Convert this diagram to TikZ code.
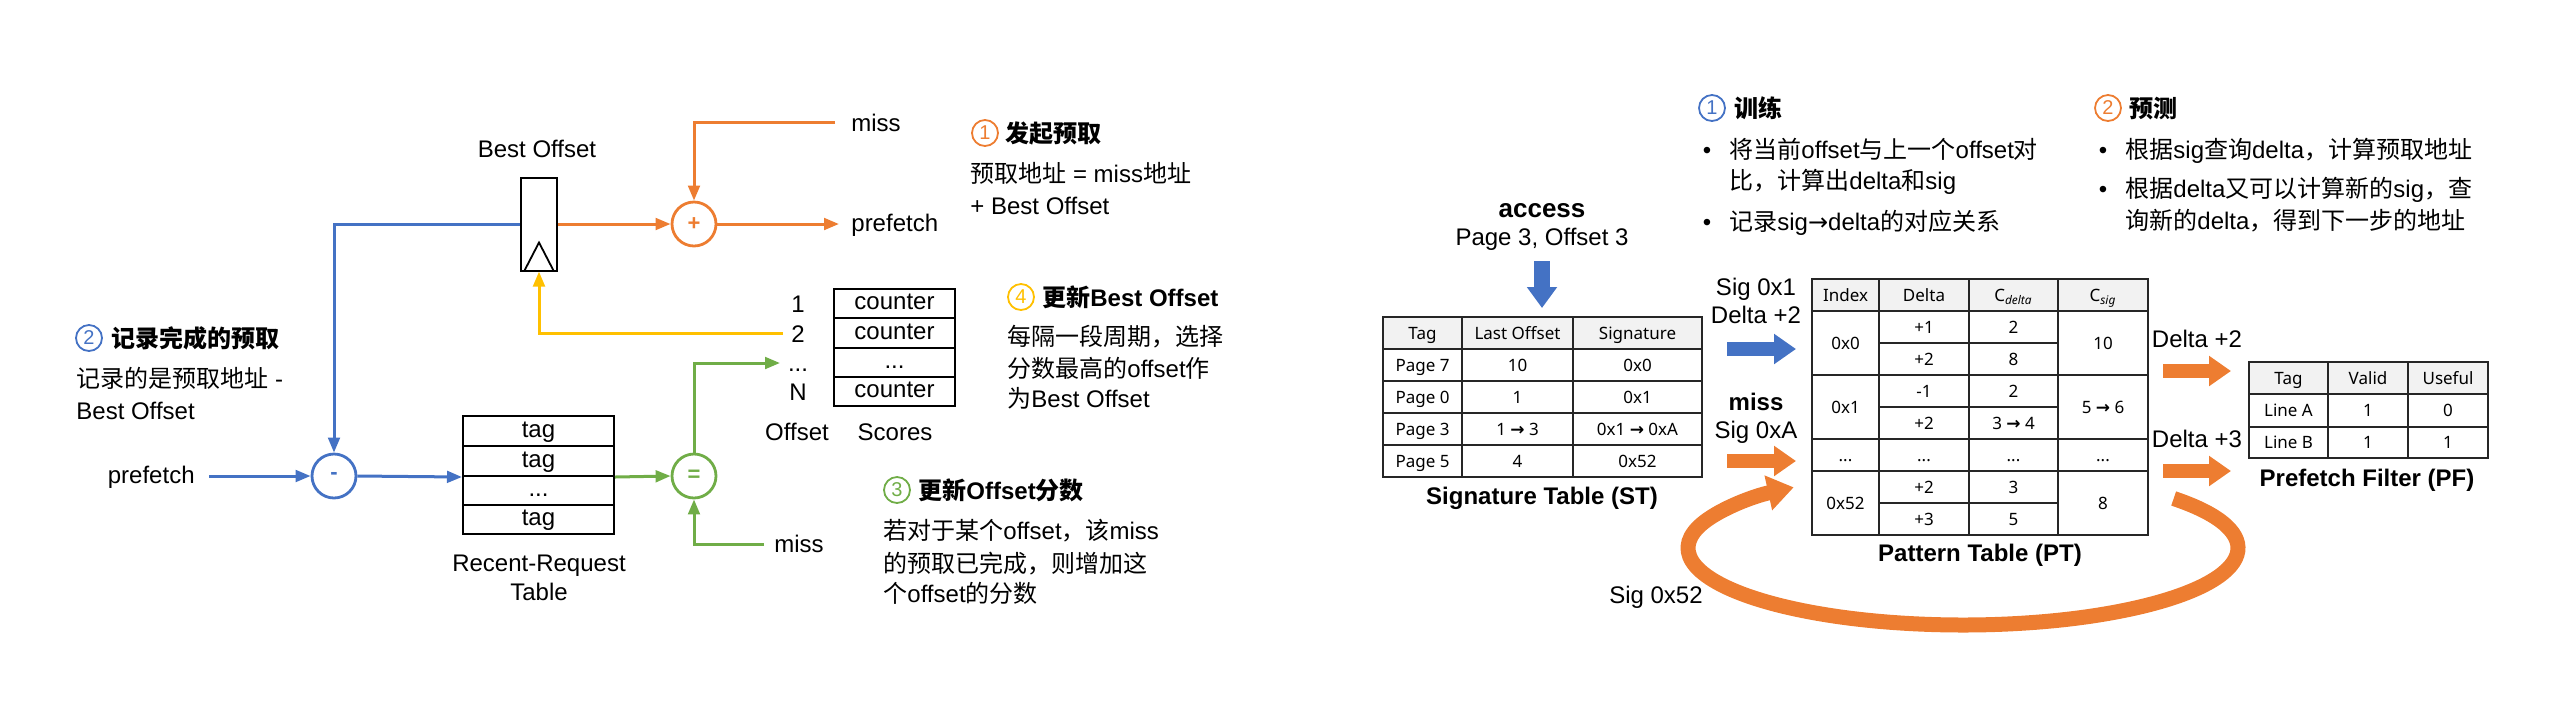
\documentclass[tikz,border=0pt]{standalone}
\usepackage{fontspec}
\setmainfont{Liberation Sans}
\newfontfamily\cjkfont{Noto Sans CJK SC}
\newfontfamily\tabfont{Noto Sans}
\newfontfamily\symfont{DejaVu Sans}
\usetikzlibrary{arrows.meta}
\newcommand\zh[1]{{\cjkfont #1}}
\newcommand\rarr{{\symfont\char"2192}}
\definecolor{cOr}{HTML}{ED7D31}
\definecolor{cBl}{HTML}{4472C4}
\definecolor{cGr}{HTML}{70AD47}
\definecolor{cYe}{HTML}{FFC000}
\definecolor{hdr}{HTML}{F2F2F2}
\definecolor{tl}{HTML}{262626}
\tikzset{
  wire/.style={line width=1.5pt},
  arr/.style={-{Triangle[length=7.5pt,width=5.8pt]}},
  op/.style={circle,draw=#1,text=#1,line width=1.4pt,minimum size=22pt,inner sep=0pt,fill=white,font=\fontsize{11}{12}\selectfont\bfseries},
  cnum/.style={circle,draw=#1,text=#1,line width=0.9pt,minimum size=13pt,inner sep=0pt,font=\fontsize{10}{10}\selectfont},
  t/.style={inner sep=0pt,anchor=base west,font=\fontsize{12}{14}\selectfont},
  tc/.style={t,anchor=base},
  tr/.style={t,anchor=base east},
  tb/.style={t,font=\fontsize{12}{14}\selectfont\bfseries},
  tbc/.style={tb,anchor=base},
  cell/.style={draw=black,line width=1pt,inner sep=0pt,minimum width=#1,minimum height=14.75pt,font=\fontsize{12}{14}\selectfont,text height=8.6pt,text depth=2.5pt},
  tline/.style={draw=tl,line width=1pt},
  tcell/.style={inner sep=0pt,font=\fontsize{8.5}{10}\selectfont\tabfont,text height=6.1pt,text depth=0pt},
  thd/.style={tcell,font=\fontsize{8.5}{10}\selectfont\tabfont\bfseries},
  blkarr/.style={line width=7pt,-{Triangle[length=11pt,width=14.5pt]}},
}
\begin{document}
\begin{tikzpicture}[x=0.5pt,y=0.5pt]
\useasboundingbox (0,0) rectangle (2560,-720);

% ================= LEFT: Best-Offset prefetcher =================
\node[draw,line width=1pt,minimum width=18pt,minimum height=46.5pt,inner sep=0pt] (reg) at (539,-224) {};
\draw[line width=0.9pt] ([xshift=-7.5pt]reg.south) -- ([yshift=14.5pt]reg.south) -- ([xshift=7.5pt]reg.south);
\node[tc] (regl) at (537,-157) {Best Offset};

\node[op=cOr] (plus) at (694,-224) {+};
\node[op=cBl] (minus) at (334,-476) {-};
\node[op=cGr] (eq) at (694,-476) {=};

% recent request table
\node[cell=75.5pt] (rr1) at (538.5,-431) {tag};
\node[cell=75.5pt,minimum height=15pt] (rr2) at (538.5,-461) {tag};
\node[cell=75.5pt] (rr3) at (538.5,-490.5) {...};
\node[cell=75.5pt] (rr4) at (538.5,-519.5) {tag};
\node[tc] (rrl1) at (539,-571) {Recent-Request};
\node[tc] (rrl2) at (539,-600) {Table};

% scores table
\node[cell=60.5pt] (sc1) at (894.5,-303.5) {counter};
\node[cell=60.5pt] (sc2) at (894.5,-333) {counter};
\node[cell=60.5pt] (sc3) at (894.5,-362.5) {...};
\node[cell=60.5pt] (sc4) at (894.5,-391.5) {counter};
\node[tc] (of1) at (798,-312) {1};
\node[tc] (of2) at (798,-342) {2};
\node[tc] (of3) at (798,-371) {...};
\node[tc] (of4) at (798,-400) {N};
\node[tc] (ofl) at (797,-440) {Offset};
\node[tc] (scl) at (895,-440) {Scores};

% labels
\node[t] (missT) at (851,-131) {miss};
\node[t] (pfT) at (851,-231) {prefetch};
\node[tr] (pfL) at (195,-483) {prefetch};
\node[t] (missB) at (774,-552) {miss};

% connectors
\coordinate (mT) at (835,-122);
\coordinate (pT) at (839,-224);
\coordinate (pL) at (209,-476);
\coordinate (gE) at (780,-363);
\coordinate (mB) at (764,-544);
\coordinate (yS) at (783,-333);
\draw[wire,cOr,arr] (mT) -| (plus.north);
\draw[wire,cOr,arr] (reg.east) -- (plus.west);
\draw[wire,cOr,arr] (plus.east) -- (pT);
\draw[wire,cBl,arr] (reg.west) -| (minus.north);
\draw[wire,cBl,arr] (pL) -- (minus.west);
\draw[wire,cBl,arr] (minus.east) -- (rr2.south west);
\draw[wire,cGr,arr] (rr2.south east) -- (eq.west);
\draw[wire,cGr,arr] (eq.north) |- (gE);
\draw[wire,cGr,arr] (mB) -| (eq.south);
\draw[wire,cYe,arr] (yS) -| (reg.south);

% explanations
\node[cnum=cOr] (n1) at (985,-133) {1};
\node[tb] (n1t) at (1005,-142) {\zh{发起预取}};
\node[t] (n1a) at (970,-182) {\zh{预取地址} = miss\zh{地址}};
\node[t] (n1b) at (970,-214) {+ Best Offset};

\node[cnum=cYe] (n4) at (1021,-297) {4};
\node[tb] (n4t) at (1042,-306) {\zh{更新}Best Offset};
\node[t] (n4a) at (1007,-345) {\zh{每隔一段周期，选择}};
\node[t] (n4b) at (1007,-377) {\zh{分数最高的}offset\zh{作}};
\node[t] (n4c) at (1007,-407) {\zh{为}Best Offset};

\node[cnum=cBl] (n2) at (89,-338) {2};
\node[tb] (n2t) at (111,-347) {\zh{记录完成的预取}};
\node[t] (n2a) at (76,-387) {\zh{记录的是预取地址} -};
\node[t] (n2b) at (76,-419) {Best Offset};

\node[cnum=cGr] (n3) at (897,-490) {3};
\node[tb] (n3t) at (918,-499) {\zh{更新}Offset\zh{分数}};
\node[t] (n3a) at (883,-539) {\zh{若对于某个}offset\zh{，该}miss};
\node[t] (n3b) at (883,-572) {\zh{的预取已完成，则增加这}};
\node[t] (n3c) at (883,-602) {\zh{个}offset\zh{的分数}};

% ================= RIGHT: SPP =================
\node[tbc,font=\fontsize{13}{14}\selectfont\bfseries] (acc) at (1542,-217) {access};
\node[tc] (acc2) at (1542,-245) {Page 3, Offset 3};
\coordinate (aS) at (1542,-261);
\coordinate (aE) at (1542,-308);
\draw[cBl,line width=8pt,-{Triangle[length=10.5pt,width=14.5pt]}] (aS) -- (aE);

% Signature table
\fill[hdr] (1383,-317) rectangle (1702,-349);
\draw[tline] (1383,-317) rectangle (1702,-477);
\foreach \y in {349,381,413,445} \draw[tline] (1383,-\y) -- (1702,-\y);
\foreach \x in {1462,1573} \draw[tline] (\x,-317) -- (\x,-477);
\node[thd] (sth1) at (1422.5,-333) {Tag};
\node[thd] (sth2) at (1517.5,-333) {Last Offset};
\node[thd] (sth3) at (1637.5,-333) {Signature};
\node[tcell] (st11) at (1422.5,-365) {Page 7};
\node[tcell] (st12) at (1517.5,-365) {10};
\node[tcell] (st13) at (1637.5,-365) {0x0};
\node[tcell] (st21) at (1422.5,-397) {Page 0};
\node[tcell] (st22) at (1517.5,-397) {1};
\node[tcell] (st23) at (1637.5,-397) {0x1};
\node[tcell] (st31) at (1422.5,-429) {Page 3};
\node[thd] (st32) at (1517.5,-429) {1 \rarr{} 3};
\node[thd] (st33) at (1637.5,-429) {0x1 \rarr{} 0xA};
\node[tcell] (st41) at (1422.5,-461) {Page 5};
\node[tcell] (st42) at (1517.5,-461) {4};
\node[tcell] (st43) at (1637.5,-461) {0x52};
\node[tbc] (stl) at (1542,-504) {Signature Table (ST)};

% arrows ST -> PT
\node[tc] (s1a) at (1756,-295) {Sig 0x1};
\node[tc] (s1b) at (1756,-323) {Delta +2};
\node[tbc] (s2a) at (1756,-410) {miss};
\node[tc] (s2b) at (1756,-438) {Sig 0xA};
\coordinate (b1S) at (1727,-349);
\coordinate (b1E) at (1796,-349);
\coordinate (o1S) at (1727,-461);
\coordinate (o1E) at (1796,-461);
\draw[cBl,blkarr] (b1S) -- (b1E);
\draw[cOr,blkarr] (o1S) -- (o1E);

% Pattern table
\fill[hdr] (1812,-279) rectangle (2148,-311);
\draw[tline] (1812,-279) rectangle (2148,-535);
\foreach \y in {311,375,439,471} \draw[tline] (1812,-\y) -- (2148,-\y);
\foreach \y in {343,407,503} \draw[tline] (1879,-\y) -- (2058,-\y);
\foreach \x in {1879,1969,2058} \draw[tline] (\x,-279) -- (\x,-535);
\node[thd] (pth1) at (1845.5,-295) {Index};
\node[thd] (pth2) at (1924,-295) {Delta};
\node[thd] (pth3) at (2013.5,-295) {C\textsubscript{\itshape delta}};
\node[thd] (pth4) at (2103,-295) {C\textsubscript{\itshape sig}};
\node[tcell] (pi1) at (1845.5,-343) {0x0};
\node[tcell] (pd1) at (1924,-327) {+1};
\node[tcell] (pc1) at (2013.5,-327) {2};
\node[tcell] (pd2) at (1924,-359) {+2};
\node[tcell] (pc2) at (2013.5,-359) {8};
\node[tcell] (ps1) at (2103,-343) {10};
\node[tcell] (pi2) at (1845.5,-407) {0x1};
\node[tcell] (pd3) at (1924,-391) {-1};
\node[tcell] (pc3) at (2013.5,-391) {2};
\node[tcell] (pd4) at (1924,-423) {+2};
\node[thd] (pc4) at (2013.5,-423) {3 \rarr{} 4};
\node[thd] (ps2) at (2103,-407) {5 \rarr{} 6};
\node[tcell] (pi3) at (1845.5,-455) {...};
\node[tcell] (pd5) at (1924,-455) {...};
\node[tcell] (pc5) at (2013.5,-455) {...};
\node[tcell] (ps3) at (2103,-455) {...};
\node[tcell] (pi4) at (1845.5,-503) {0x52};
\node[tcell] (pd6) at (1924,-487) {+2};
\node[tcell] (pc6) at (2013.5,-487) {3};
\node[tcell] (pd7) at (1924,-519) {+3};
\node[tcell] (pc7) at (2013.5,-519) {5};
\node[tcell] (ps4) at (2103,-503) {8};
\node[tbc] (ptl) at (1980,-561) {Pattern Table (PT)};

% arrows PT -> PF
\node[tc] (d2) at (2197,-347) {Delta +2};
\node[tc] (d3) at (2197,-447) {Delta +3};
\coordinate (p1S) at (2163,-371);
\coordinate (p1E) at (2231,-371);
\coordinate (p2S) at (2163,-471);
\coordinate (p2E) at (2231,-471);
\draw[cOr,blkarr] (p1S) -- (p1E);
\draw[cOr,blkarr] (p2S) -- (p2E);

% Prefetch filter
\fill[hdr] (2249,-362) rectangle (2488,-394);
\draw[tline] (2249,-362) rectangle (2488,-458);
\foreach \y in {394,427} \draw[tline] (2249,-\y) -- (2488,-\y);
\foreach \x in {2328,2408} \draw[tline] (\x,-362) -- (\x,-458);
\node[thd] (pfh1) at (2288.5,-378) {Tag};
\node[thd] (pfh2) at (2368,-378) {Valid};
\node[thd] (pfh3) at (2448,-378) {Useful};
\node[tcell] (pf11) at (2288.5,-410.5) {Line A};
\node[tcell] (pf12) at (2368,-410.5) {1};
\node[tcell] (pf13) at (2448,-410.5) {0};
\node[tcell] (pf21) at (2288.5,-442.5) {Line B};
\node[tcell] (pf22) at (2368,-442.5) {1};
\node[tcell] (pf23) at (2448,-442.5) {1};
\node[tbc] (pfl) at (2367,-486) {Prefetch Filter (PF)};

% loop arrow (center 1963,-548; rx 275, ry 77)
\coordinate (loopS) at (2173.66,-498.5);
\draw[cOr,line width=7.5pt,-{Triangle[length=13pt,width=17pt]}] (loopS) arc[start angle=40,end angle=-232,x radius=137.5pt,y radius=38.5pt];
\node[tc] (s52) at (1656,-603) {Sig 0x52};

% explanation right
\node[cnum=cBl] (m1) at (1712,-108) {1};
\node[tb] (m1t) at (1734,-117) {\zh{训练}};
\node[tc] (m1d1) at (1707,-158) {•};
\node[t] (m1a) at (1729,-158) {\zh{将当前}offset\zh{与上一个}offset\zh{对}};
\node[t] (m1b) at (1729,-189) {\zh{比，计算出}delta\zh{和}sig};
\node[tc] (m1d2) at (1707,-230) {•};
\node[t] (m1c) at (1729,-230) {\zh{记录}sig\rarr delta\zh{的对应关系}};

\node[cnum=cOr] (m2) at (2108,-108) {2};
\node[tb] (m2t) at (2129,-117) {\zh{预测}};
\node[tc] (m2d1) at (2103,-158) {•};
\node[t] (m2a) at (2125,-158) {\zh{根据}sig\zh{查询}delta\zh{，计算预取地址}};
\node[tc] (m2d2) at (2103,-197) {•};
\node[t] (m2b) at (2125,-197) {\zh{根据}delta\zh{又可以计算新的}sig\zh{，查}};
\node[t] (m2c) at (2125,-229) {\zh{询新的}delta\zh{，得到下一步的地址}};
\end{tikzpicture}
\end{document}
